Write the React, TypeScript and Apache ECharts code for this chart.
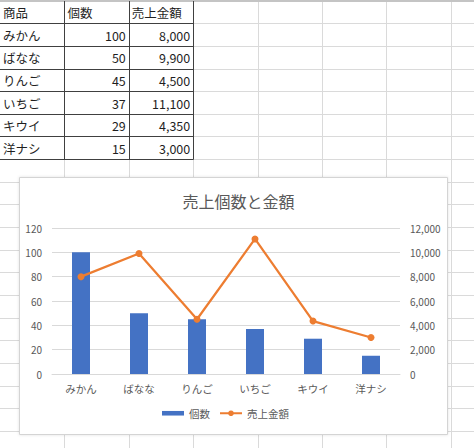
import { useEffect, useRef } from "react";
import * as echarts from "echarts";

const headers = ["商品", "個数", "売上金額"];
const categories = ["みかん", "ばなな", "りんご", "いちご", "キウイ", "洋ナシ"];
const counts = [100, 50, 45, 37, 29, 15];
const amounts = [8000, 9900, 4500, 11100, 4350, 3000];

const countAxis = { min: 0, max: 120, interval: 20 };
const amountAxis = { min: 0, max: 12000, interval: 2000 };

const FONT = "'Noto Sans CJK JP', 'Noto Sans', sans-serif";
const COL_W = 64.4;
const ROW_H = 22.65;
const ROW0 = 0.6;

function fmt(v: number) {
  return v.toLocaleString("en-US");
}

function sheetGraphics() {
  const els: any[] = [];
  // light gridlines of the sheet
  for (let k = 1; k <= 7; k++) {
    const x = Math.round(k * COL_W) + 0.5;
    els.push({
      type: "line",
      z: -10,
      shape: { x1: x, y1: 0, x2: x, y2: 448 },
      style: { stroke: "#dadada", lineWidth: 1 },
    });
  }
  for (let r = 1; r <= 19; r++) {
    const y = Math.round(ROW0 + r * ROW_H) + 0.5;
    els.push({
      type: "line",
      z: -10,
      shape: { x1: 0, y1: y, x2: 474, y2: y },
      style: { stroke: "#dadada", lineWidth: 1 },
    });
  }
  // top header edge
  els.push({
    type: "rect",
    z: -9,
    shape: { x: 0, y: 0, width: 474, height: 2 },
    style: { fill: "#c4c4c4" },
  });

  // table borders
  const rows = categories.length + 1;
  const tableBottom = Math.round(ROW0 + rows * ROW_H) + 0.5;
  const tableRight = Math.round(3 * COL_W) + 0.5;
  for (let r = 1; r <= rows; r++) {
    const y = Math.round(ROW0 + r * ROW_H) + 0.5;
    els.push({
      type: "line",
      z: -8,
      shape: { x1: 0, y1: y, x2: tableRight, y2: y },
      style: { stroke: "#404040", lineWidth: 1 },
    });
  }
  for (let k = 1; k <= 3; k++) {
    const x = Math.round(k * COL_W) + 0.5;
    els.push({
      type: "line",
      z: -8,
      shape: { x1: x, y1: 1, x2: x, y2: tableBottom },
      style: { stroke: "#404040", lineWidth: 1 },
    });
  }

  // table text
  const cell = (text: string, col: number, row: number, align: string) => {
    const yMid = ROW0 + row * ROW_H + ROW_H / 2 + 0.5;
    const x = align === "left" ? col * COL_W + 3 : (col + 1) * COL_W - 3;
    els.push({
      type: "text",
      z: -7,
      x,
      y: yMid,
      style: {
        text,
        fill: "#1f1f1f",
        font: `12.5px ${FONT}`,
        textAlign: align,
        textVerticalAlign: "middle",
      },
    });
  };
  headers.forEach((h, i) => cell(h, i, 0, "left"));
  categories.forEach((c, i) => {
    cell(c, 0, i + 1, "left");
    cell(String(counts[i]), 1, i + 1, "right");
    cell(fmt(amounts[i]), 2, i + 1, "right");
  });

  // chart area box
  els.push({
    type: "rect",
    z: -6,
    shape: { x: 19.5, y: 177.5, width: 428, height: 257 },
    style: {
      fill: "#ffffff",
      stroke: "#d4d4d4",
      lineWidth: 1,
      shadowBlur: 3,
      shadowColor: "rgba(0,0,0,0.12)",
    },
  });
  return els;
}

export default function App() {
  const containerRef = useRef<HTMLDivElement>(null);

  useEffect(() => {
    if (!containerRef.current) return;
    const chart = echarts.init(containerRef.current, undefined, {
      renderer: "svg",
    });

    chart.setOption({
      animation: false,
      backgroundColor: "#ffffff",
      textStyle: { fontFamily: FONT },
      graphic: sheetGraphics(),
      title: {
        text: "売上個数と金額",
        left: 233.5,
        top: 188,
        textAlign: "center",
        textStyle: {
          fontFamily: FONT,
          fontSize: 16,
          fontWeight: "normal",
          color: "#595959",
        },
      },
      legend: {
        left: 157,
        top: 403,
        itemWidth: 22,
        itemHeight: 7,
        itemGap: 9,
        textStyle: { fontFamily: FONT, fontSize: 10.5, color: "#595959" },
        data: [
          { name: "個数", icon: "path://M0,0H24V5H0Z" },
          { name: "売上金額" },
        ],
      },
      grid: { left: 52, right: 74, top: 228, bottom: 74 },
      xAxis: {
        type: "category",
        data: categories,
        axisLine: { lineStyle: { color: "#d9d9d9" } },
        axisTick: { show: false },
        axisLabel: {
          margin: 9,
          fontFamily: FONT,
          fontSize: 10.5,
          color: "#595959",
        },
      },
      yAxis: [
        {
          type: "value",
          ...countAxis,
          axisLine: { show: false },
          axisTick: { show: false },
          splitLine: { lineStyle: { color: "#d9d9d9", width: 1 } },
          axisLabel: {
            margin: 10,
            fontFamily: FONT,
            fontSize: 10,
            color: "#595959",
          },
        },
        {
          type: "value",
          ...amountAxis,
          position: "right",
          axisLine: { show: false },
          axisTick: { show: false },
          splitLine: { show: false },
          axisLabel: {
            margin: 10,
            fontFamily: FONT,
            fontSize: 10,
            color: "#595959",
            formatter: (v: number) => fmt(v),
          },
        },
      ],
      series: [
        {
          name: "個数",
          type: "bar",
          data: counts,
          barWidth: 18,
          itemStyle: { color: "#4472C4" },
        },
        {
          name: "売上金額",
          type: "line",
          yAxisIndex: 1,
          data: amounts,
          symbol: "circle",
          symbolSize: 7,
          itemStyle: { color: "#ED7D31" },
          lineStyle: { color: "#ED7D31", width: 2.25 },
        },
      ],
    });

    return () => {
      chart.dispose();
    };
  }, []);

  return (
    <div
      ref={containerRef}
      style={{ position: "fixed", left: 0, top: 0, width: "474px", height: "448px" }}
    />
  );
}
